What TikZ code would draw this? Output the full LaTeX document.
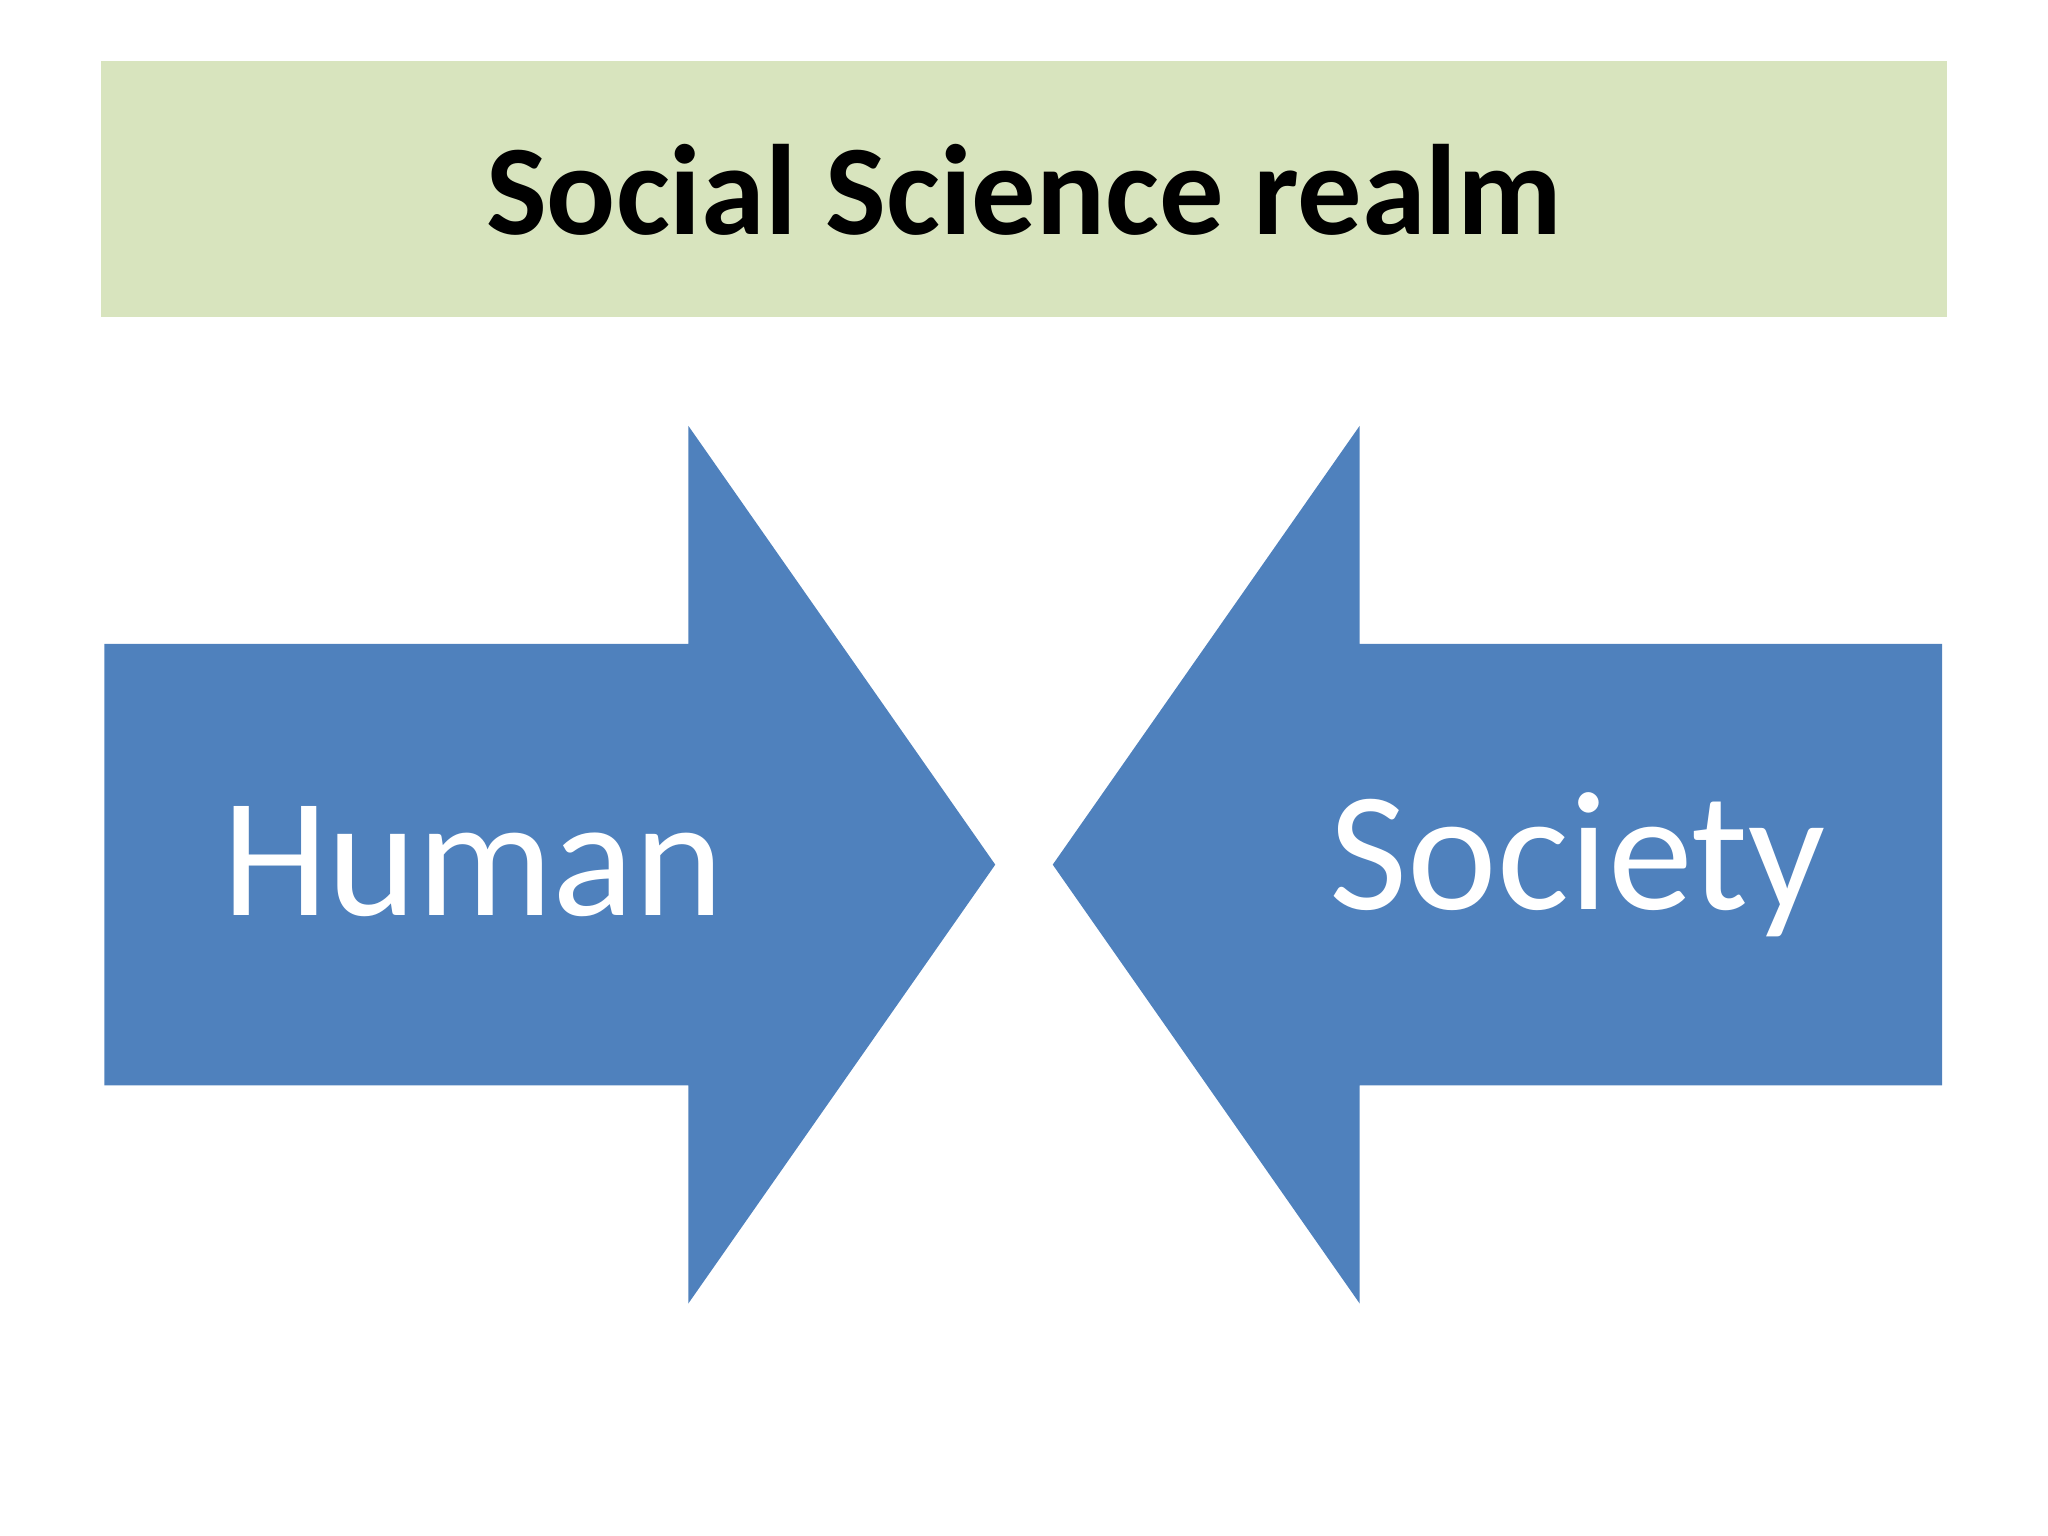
\documentclass[tikz,border=0pt]{standalone}
\usepackage{fontspec}
\setmainfont{Carlito}
\definecolor{banner}{RGB}{216,228,190}
\definecolor{arrowblue}{RGB}{79,129,189}
\begin{document}
\begin{tikzpicture}[x=0.01cm,y=-0.01cm,
  arrowshape/.style={fill=arrowblue,draw=none},
  bigtext/.style={text=white,font=\fontsize{37}{44}\selectfont}]
\useasboundingbox (0,0) rectangle (1568,1176);
\node[fill=banner,minimum width=14.12cm,minimum height=1.96cm,inner sep=0pt,
  font=\bfseries\fontsize{28}{34}\selectfont] (title) at (784,145) {Social Science realm};
\fill[arrowshape] (80,493) -- (527,493) -- (527,326) -- (762,662) -- (527,998) -- (527,831) -- (80,831) -- cycle;
\fill[arrowshape] (1487,493) -- (1041,493) -- (1041,326) -- (806,662) -- (1041,998) -- (1041,831) -- (1487,831) -- cycle;
\node[bigtext] (human) at (362,660) {Human};
\node[bigtext] (society) at (1208,662) {Society};
\end{tikzpicture}
\end{document}
